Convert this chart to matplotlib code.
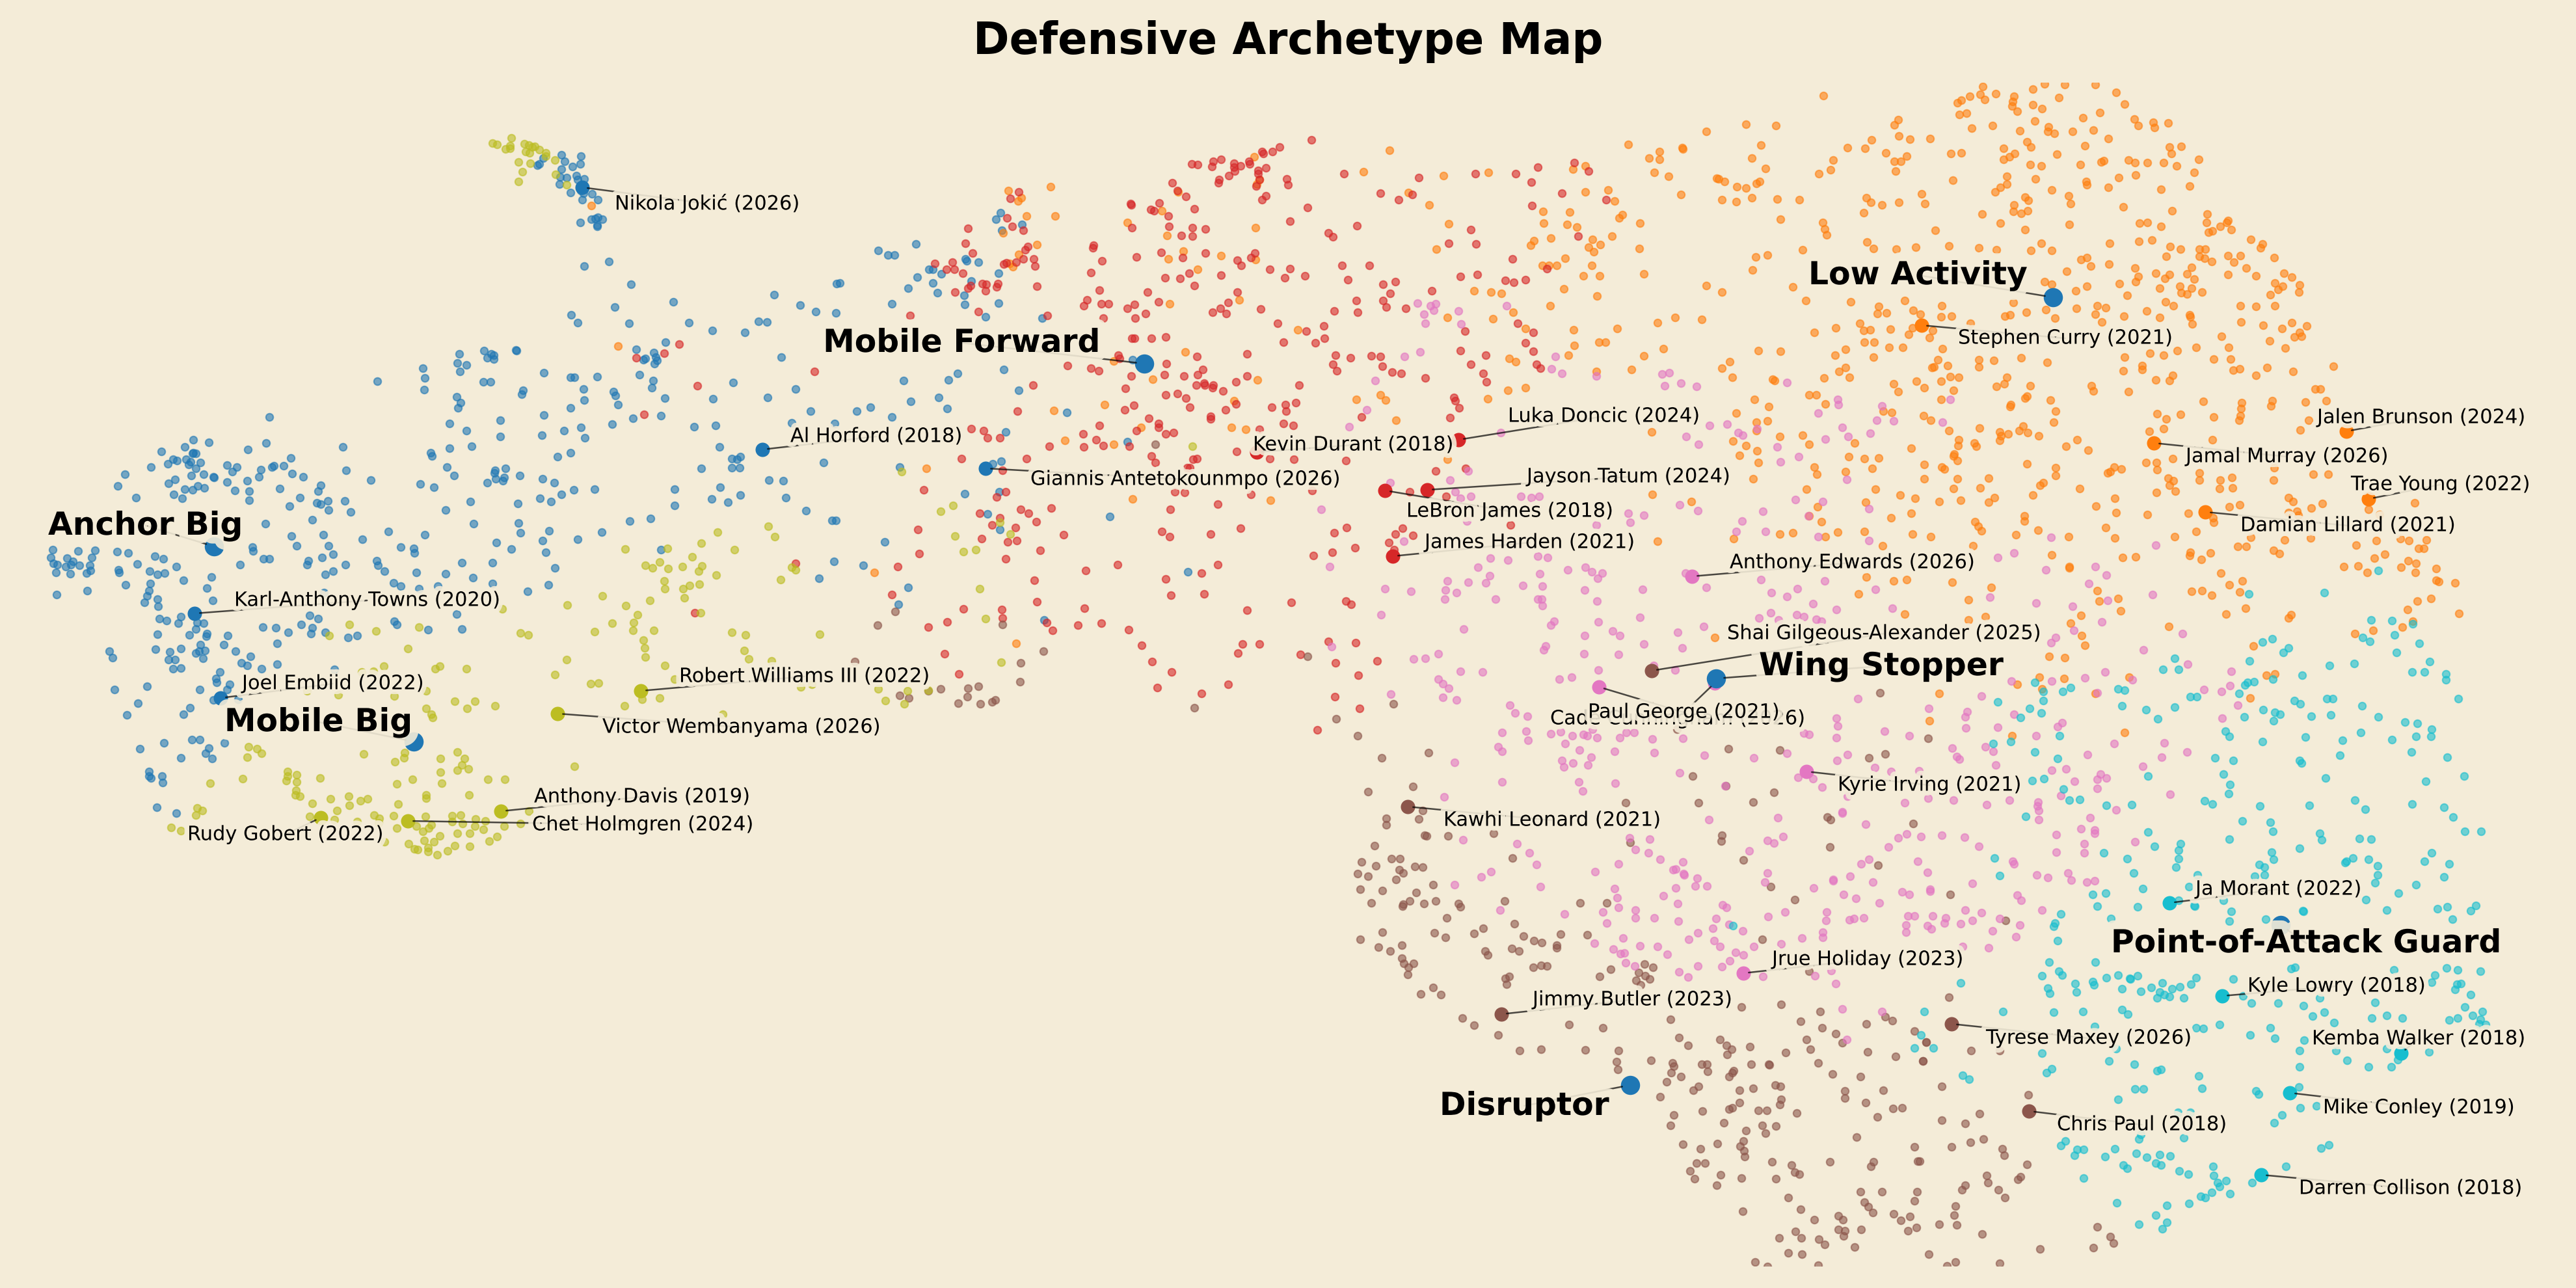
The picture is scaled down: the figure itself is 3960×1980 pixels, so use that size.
import matplotlib
matplotlib.use("Agg")
import matplotlib.pyplot as plt
import matplotlib.patheffects as pe

BACKGROUND = "#f4ecd8"
TITLE = "Defensive Archetype Map"

# Survey sheets: each block of points was logged on its own local grid.
# sheet -> (origin x, origin y, x step, y step) on the map grid.
SHEETS = {
    "nw": (0, 150, 0.842, 0.421),
    "w": (0, 700, 0.842, 0.421),
    "n": (1320, 150, 0.842, 0.421),
    "c": (1320, 700, 0.842, 0.421),
    "ne": (2640, 100, 0.842, 0.421),
    "e": (2640, 700, 0.842, 0.421),
    "s": (2000, 1250, 0.842, 0.4656),
    "se": (2950, 1250, 0.644, 0.4656),
}

COLORS = {
    "Anchor Big": "#1f77b4",
    "Low Activity": "#ff7f0e",
    "Mobile Forward": "#d62728",
    "Disruptor": "#8c564b",
    "Wing Stopper": "#e377c2",
    "Mobile Big": "#bcbd22",
    "Point-of-Attack Guard": "#17becf",
}

nw_anchor = [(1025,208),(1060,214),(1031,232),(1059,243),(1045,252),(1025,261),(992,222),(985,243),(981,248),(1052,284),(1023,290),(1034,292),(1055,300),(1066,298),(1021,315),(1042,346),(1065,350),(1081,352),(1063,372),(1091,374),(1060,340),(1059,456),(1079,443),(1091,438),(1100,444),(1087,441),(1090,471),(1090,465),
(1067,616),(1112,599),(1152,681),(1229,746),(1122,764),(1043,794),(1055,822),(1148,825),(1258,823),(1301,850),(1360,857),(1385,816),(1400,819),(1413,719),(1461,758),(1489,781),(1526,787),(1527,679),(1533,678),(1215,892),(1161,919),(1194,931),(1178,953),(1174,958),(1197,948),(1200,960),(1195,972),(884,923),(897,937),(901,941),(890,950),(902,956),(838,935),(835,970),(851,976),(840,1000),(772,988),(776,1023),(774,1066),(689,1036),(942,921),(943,923),(993,1004),(1042,1021),(1049,1022),(1090,1020),(1167,1013),(1192,1034),(1190,1060),(883,1037),(896,1037),(1065,1063),(955,1068),(953,1082),(1120,1073),(1123,1089),(1128,1120),(1067,1105),(1042,1132),(834,1092),(841,1115),(836,1133),(993,1160),(913,1178),(821,1189),(852,1217),(1061,1204),(1030,1215),(1118,1192),(1155,1170),(1207,1162),(989,1232),(913,1237),(1068,1243),(1214,1098),(1302,1099),(1402,1095),(1452,1063),(1339,1041),(1426,948),(1480,1146),(1564,1145),(1445,1188),(1524,1190),(1267,1203),(1307,1198),(492,1166),
(486,1262),(353,1249),(381,1260),(337,1275),(294,1291),(452,1285),(626,1275),(861,1272),(821,1281),(1314,1276),(353,1298),(351,1300),(358,1299),(786,1298),(789,1308),(531,1317),(1042,1296),(1018,1311),(1351,1310),
(316,1321),(323,1325),(340,1320),(348,1330),(366,1333),(306,1337),(344,1340),(358,1355),(276,1350),(415,1343),(432,1348),(424,1365),(476,1358),(500,1345),(497,1350),(518,1345),(228,1376),(349,1380),(372,1375),(389,1385),(391,1388),(320,1395),(308,1409),(415,1403),(473,1385),(451,1398),(533,1372),(553,1385),(586,1415),(677,1396),(767,1411),(792,1423),(816,1349),(829,1380),(904,1362),(923,1354),(903,1370),(905,1393),(921,1386),(918,1400),(890,1405),(949,1379),(990,1391),(1012,1405),(215,1419),(337,1431),(352,1433),(361,1418),(373,1426),(317,1450),(332,1463),(429,1434),(455,1438),(511,1427),(581,1438),(455,1470),(548,1461),(578,1480),(586,1485),(599,1472),(630,1472),(600,1506),(640,1514),(529,1491),(570,1542),(484,1556),(248,1460),(1085,1429),(1047,1433),(1025,1449),(986,1464),(1006,1475),(859,1476),(945,1481),(813,1505),(1232,1430),(1315,1422),(1351,1452),(1299,1466),(1329,1478),(1231,1489),(1430,1400),(1404,1397),(1435,1461),(1472,1509),(1519,1545),(1526,1545),(1150,1546),(1188,1537),(865,1557),(947,1553),(1280,1353),(1336,1319),(1346,1320),(1336,1352),(1350,1351),(1503,1332),(632,1360)]
w_anchor = [(590,289),(532,294),(709,278),(776,290),(950,283),(1002,276),(1098,281),(1055,306),(662,307),(990,312),(906,318),(542,329),(600,329),(732,334),(755,340),(756,356),(934,341),(996,354),(461,335),(462,350),(608,362),(588,372),(142,349),(173,347),(96,345),(214,352),(234,357),(283,367),(298,377),(481,377),(492,378),(93,373),(122,376),(168,373),(133,388),(97,395),(104,400),(120,405),(130,400),(145,402),(164,402),(251,396),(438,400),(563,385),(560,398),(631,398),(688,385),(690,402),(843,393),(899,392),(1013,410),(1523,387),(1495,448),(1207,345),(322,407),(216,418),(217,428),(165,420),(158,430),(102,428),(128,432),(273,423),(288,435),(300,430),(608,422),(594,434),(702,423),(760,428),(814,433),(864,447),(386,444),(335,455),(229,472),(274,468),(378,485),(719,466),(731,478),(765,488),(799,478),(899,468),(1001,472),(963,496),(103,509),(159,493),(272,495),(268,512),(287,525),(264,538),(388,530),(289,552),(591,500),
(565,585),(581,596),(291,596),(304,604),(330,590),(325,613),(372,612),(360,610),(720,605),(725,618),(834,580),(480,628),(503,630),(550,618),(570,630),(568,650),(594,645),(526,646),(635,665),(652,658),(782,636),(843,634),(287,654),(346,656),(357,634),(378,650),(376,660),(416,658),(506,687),(366,692),(408,692),(284,709),(199,715),(205,738),(330,706),(310,718),(363,715),(358,722),(374,712),(430,714),(308,745),(319,745),(370,740),(457,735),(441,758),(451,767),(506,763),(477,778),(316,780),(330,776),(611,782),(401,790),(394,815),(396,830),(419,835),(209,856),(268,844),(365,855),(414,855),(435,890),(390,893),(252,906),(347,922),(335,945),(232,947),(299,1049),(350,1037),(365,1037),(410,1050),(255,1072),(381,1068),(375,1088),(330,1104),(387,1107),(272,1155),(272,1170),(275,1178),(296,1172),(297,1195),(286,1285),(322,1306)]
n_anchor = [(259,420),(250,444),(298,463),(261,485),(104,534),(36,559),(54,574),(65,576),(195,588),(197,597),(219,600),(135,627),(128,628),(151,644),(107,655),(255,642),(205,670),(135,678),(90,695),(144,713),(192,722),(193,756),(255,750),(60,754),(232,800),(335,805),(265,992),(180,1006),(164,1030),(82,1033),(292,1068),(146,1095),(95,1110),(21,1130),(161,1136),(60,1167),(380,1149),(269,1221),(491,1257),(500,958)]
c_anchor = [(245,30),(260,22),(75,43),(256,133),(193,140),(235,213),(458,224),(258,271),(47,316),(8,401),(90,482),(73,545),(338,602),(601,426)]

nw_low = [(1080,395),(1128,908)]
n_low = [(350,325),(273,340),(297,365),(291,378),(307,433),(359,432),(264,495),(325,536),(292,573),(275,605),(282,618),(490,457),(553,413),(583,345),(563,503),(724,475),(722,217),(732,300),(727,315),(593,560),(565,588),(661,578),(724,592),(619,628),(568,754),(695,738),(596,929),(466,962),(537,1028),(728,1031),(449,1121),(356,1142),(685,1108),(516,1204),(681,1205),(707,1211),(376,1252),(465,1267),(969,192),(922,270),(1068,286),(1150,272),(1004,347),(1042,393),(1077,460),(1055,554),(802,848),(952,1086),(962,1105),(909,1103),(981,1178),(1075,803),(1158,807),(1217,843),(1188,952),(1199,965),(1185,1069),(1217,1060),(1149,1099),(1124,705),(1154,710),(1173,714),(1262,760),(1195,784),(1348,724),(1288,698),(1323,652),(1353,651),(1434,644),(1547,687),(1338,612),(1248,612),(1260,612),(1274,613),(1290,586),(1425,550),(1340,517),(1333,547),(1342,562),(1354,538),(1375,507),(1233,522),(1227,540),(1264,513),(1293,462),(1250,459),(1311,473),(1249,416),(1298,417),(1388,440),(1394,428),(1426,458),(1380,377),(1327,345),(1368,338),(1304,262),(1327,250),(1405,170),(1443,221),(1462,196),(1462,225),(1503,182),(1505,187),(1547,124),(1452,274),(1479,288),(1566,295),(1501,355),(1490,802),(1539,811),(1458,823),(1385,843),(1305,847),(1351,893),(1364,892),(1306,905),(1469,918),(1433,943),(1296,941),(1411,992),(1347,999),(1448,1220)]
c_low = [(123,47),(500,160),(752,164),(28,428),(287,687),(1449,143),(1520,168),(1458,314),(1075,15),(1563,665)]
ne_low = [(194,112),(485,78),(576,88),(597,70),(634,72),(690,72),(728,100),(508,104),(480,108),(461,114),(445,128),(438,138),(488,125),(542,115),(539,132),(538,150),(548,168),(576,145),(593,160),(624,118),(743,142),(698,174),(455,176),(442,180),(668,192),(761,198),(796,208),(769,220),(798,228),(823,212),(52,215),(107,222),(330,199),(323,218),(579,205),(502,220),(464,230),(605,225),(603,243),(615,250),(648,242),(686,237),(552,241),(331,258),(351,270),(388,268),(281,272),(714,269),(565,281),(573,299),(671,295),(826,299),(847,296),(79,293),(238,301),(270,305),(308,320),(523,305),(829,323),(543,323),(533,336),(522,345),(426,322),(445,320),(620,326),(346,333),(63,339),(211,347),(323,352),(335,352),(705,348),(701,355),(751,347),(762,357),(785,357),(815,357),(838,367),(879,345),(571,364),(591,368),(663,363),(88,378),(207,383),(185,396),(325,388),(871,393),(528,406),(581,416),(733,410),(764,402),(430,420),(673,425),(674,438),(529,434),(517,447),(507,462),(714,446),(862,441),(810,453),(611,455),(2,416),(13,425),(36,445),(52,449),(77,425),(71,432),(641,477),(562,482),(568,495),(373,470),(272,484),(280,500),(301,510),(331,500),(379,506),(8,492),(34,499),(63,484),(109,489),(150,491),(645,505),(541,510),(741,518),(830,531),(267,539),(540,535),(555,542),(567,533),(483,544),(894,545),(115,562),(771,578),(785,575),(893,575),(932,568),(930,574),(517,578),(192,574),(643,581),(810,590),(918,590),(938,602),(904,605),(897,611),(196,598),(398,604),(562,602),(200,621),(974,637),(716,652),(770,644),(793,640),(273,646),(285,670),(327,672),(362,665),(423,660),(478,667),(509,675),(592,652),(610,676),(995,653),(827,663),(846,672),(992,667),(155,674),(573,678),(880,673),(891,673),(880,698),(890,706),(903,717),(932,696),(955,695),(943,720),(1017,703),(820,698),(70,700),(92,693),(664,711),(675,703),(682,734),(715,727),(966,742),(866,738),(762,740),(64,749),(638,754),(1034,760),(800,760),(858,762),(932,765),(983,769),(1049,775),(769,772),(826,766),(817,780),(870,781),(764,790),(1018,795),(1063,802),(1032,807),(734,799),(808,815),(845,807),(866,815),(847,832),(857,835),(885,830),(1024,820),(1062,828),(1010,839),(597,790),(610,800),(138,810),(8,829),(675,808),(654,825),(748,840),(162,861),(243,865),(342,861),(818,865),(833,880),(540,868),(955,878),(983,882),(1018,880),(295,882),(410,880),(358,895),(694,878),(709,885),(656,889),(292,908),(309,905),(600,893),(784,897),(564,903),(534,912),(525,918),(690,909),(742,918),(808,921),(862,913),(864,920),(428,918),(370,910),(409,920),(616,924),(956,939),(1049,941),(867,946),(997,950),(260,944),(702,938),(462,942),(1076,953),(356,960),(1031,961),(216,959),(279,966),(267,970),(316,964),(177,977),(349,983),(393,970),(1063,977),(1067,990),(1054,992),(920,990),(387,996),(1008,1008),(269,1013),(286,1012),(314,1032),(339,1030),(874,1030),(934,1032),(1037,1034),(411,1036),(234,1038),(75,1042),(115,1044),(840,1042),(790,1053),(815,1060),(215,1060),(285,1066),(744,1066),(555,1068),(403,1077),(906,1074),(937,1074),(477,1077),(505,1078),(23,1082),(602,1085),(1125,1100),(396,1103),(392,1105),(420,1097),(477,1101),(775,1097),(776,1112),(1004,1105),(954,1110),(942,1114),(1051,1118),(741,1116),(8,1106),(234,1105),(222,1118),(831,1132),(983,1132),(195,1143),(27,1140),(529,1140),(241,1141),(425,1138),(441,1141),(101,1147),(105,1152),(800,1150),(825,1152),(409,1154),(363,1154),(524,1163),(509,1174),(322,1163),(378,1177),(571,1172),(683,1170),(330,1192),(431,1187),(687,1190),(750,1192),(1091,1184),(1101,1184),(167,1204),(181,1204),(565,1210),(562,1217),(608,1224),(408,1221),(68,1222),(197,1237),(887,1229),(957,1232),(1013,1225),(1011,1245),(1074,1231),(1112,1225),(536,1240),(535,1248),(94,1246),(956,1254),(618,1263),(34,1270),(303,1263),(318,1268),(803,1272),(846,1275),(955,1280),(906,1285),(952,1298),(377,1280),(390,1297),(1080,1296),(92,1299),(71,1303),(820,1293),(614,1304),(423,1334),(479,1325),(815,1327),(1064,1333),(558,1318),(551,1335),(515,1340),(567,1341),(531,1347),(71,1335),(789,1337),(587,1355),(518,1355),(515,1370),(114,1357),(156,1352),(904,1369),(657,1367),(441,1367),(29,1372),(168,1384),(251,1380),(469,1380),(440,1390),(473,1392),(52,1389),(636,1393),(354,1400),(677,1405),(73,1409),(432,1420)]
e_low = [(40,0),(240,5),(268,13),(295,10),(431,3),(75,25),(177,42),(410,43),(415,50),(283,48),(182,68),(234,60),(378,33),(438,20),(378,85),(438,85),(495,82),(565,32),(618,45),(617,73),(725,42),(737,50),(713,63),(717,60),(783,25),(802,25),(803,52),(831,12),(65,85),(595,100),(589,110),(823,82),(833,93),(826,110),(880,65),(880,90),(836,130),(802,135),(918,90),(917,120),(941,118),(1017,45),(940,80),(1015,90),(1088,70),(1115,68),(163,124),(289,124),(431,122),(480,118),(334,146),(361,157),(405,168),(444,163),(495,170),(506,155),(576,145),(661,122),(726,157),(271,172),(183,188),(691,185),(728,210),(935,187),(954,180),(860,212),(905,228),(906,245),(785,216),(1043,155),(1051,168),(1105,176),(1084,193),(1043,210),(1058,205),(1060,218),(1273,173),(1189,197),(1209,215),(354,211),(167,220),(317,228),(190,243),(470,243),(561,220),(560,240),(476,258),(482,275),(709,264),(874,278),(586,272),(220,280),(269,277),(114,288),(138,283),(197,297),(356,288),(389,298),(545,290),(641,298),(726,302),(835,298),(30,304),(302,330),(467,330),(950,333),(966,332),(974,300),(1036,308),(1083,302),(1166,328),(1203,310),(1247,305),(1263,312),(1294,308),(1280,340),(1290,340),(611,363),(740,372),(764,370),(864,355),(862,365),(900,357),(884,380),(1016,347),(1026,358),(1219,360),(1199,376),(1261,385),(1275,394),(643,405),(643,412),(1144,405),(1170,403),(1248,408),(1312,414),(919,429),(1187,427),(1274,428),(1317,460),(1312,457),(1347,465),(272,444),(322,458),(346,454),(429,463),(958,459),(935,473),(500,482),(258,507),(694,493),(866,497),(885,495),(954,498),(903,511),(731,523),(697,532),(1303,523),(1278,533),(458,528),(964,558),(1260,562),(736,568),(342,580),(929,580),(1354,577),(664,585),(1047,582),(1043,595),(489,590),(459,602),(645,614),(824,624),(1250,626),(1270,605),(1197,640),(1164,652),(665,658),(671,693),(979,696),(606,734),(634,738),(588,809),(633,814),(752,811),(1002,803),(1018,798),(547,835),(593,853),(690,870),(973,885),(405,870),(387,968),(538,1024),(744,1011)]

w_forward = [(1453,395),(1269,575)]
nw_forward = [(1240,900),(1213,934),(1161,951),(1487,1001),(1273,1053),(1176,1157)]
n_forward = [(827,154),(769,180),(755,198),(736,197),(739,205),(712,232),(714,243),(661,226),(647,232),(645,252),(685,240),(685,255),(697,250),(608,242),(619,245),(743,257),(729,265),(729,278),(686,268),(676,285),(658,300),(657,312),(731,300),(782,296),(784,318),(572,312),(726,322),(582,340),(597,362),(744,358),(736,373),(549,384),(496,388),(498,393),(820,402),(613,405),(533,409),(539,414),(565,433),(787,451),(566,470),(609,474),(633,480),(499,475),(589,503),(609,505),(910,467),(858,493),(866,509),(886,278),(1023,293),(1126,278),(1200,278),(1240,253),(1306,238),(1332,268),(1228,308),(1284,350),(952,349),(986,372),(1011,355),(1229,394),(1365,372),(1118,481),(1313,505),(1077,532),(1127,535),(199,477),(271,439),(280,470),(300,484),(292,345),(277,368),(195,531),(309,543),(304,555),(208,568),(320,590),(322,616),(301,588),(287,600),(265,608),(270,604),(171,602),(160,627),(175,627),(139,606),(190,641),(325,690),(226,679),(233,682),(254,680),(252,692),(204,686),(200,697),(231,705),(176,711),(219,782),(94,795),(344,795),(429,540),(428,548),(444,596),(424,639),(507,583),(552,565),(592,584),(633,567),(723,567),(716,585),(691,595),(698,612),(750,626),(787,625),(815,650),(778,658),(662,649),(603,642),(587,660),(559,659),(613,686),(439,704),(417,738),(411,760),(443,753),(456,752),(527,710),(503,755),(490,770),(547,745),(505,806),(524,788),(691,711),(675,748),(660,770),(646,785),(671,788),(734,773),(883,612),(932,614),(893,665),(957,682),(980,673),(1046,706),(970,714),(957,740),(963,764),(909,741),(868,779),(911,783),(999,769),(1098,653),(1129,647),(1180,668),(1196,675),(1217,665),(1193,588),(1257,624),(1203,825),(1107,852),(1231,857),(1217,896),(1231,927),(1099,925),(1145,941),(1117,975),(1237,973),(1245,988),(1140,1007),(1146,1037),(1034,1024),(990,1006),(974,1003),(956,982),(870,941),(898,950),(936,944),(953,946),(866,973),(873,998),(850,879),(849,834),(817,852),(765,825),(775,892),(834,895),(709,937),(618,946),(562,972),(628,993),(558,1011),(498,1017),(594,1017),(619,1012),(424,987),(438,998),(381,978),(318,1049),(474,940),(476,953),(503,880),(499,880),(534,880),(561,874),(447,805),(709,1017),(689,1039),(804,1049),(616,1050),(631,1043),(632,1050),(647,1050),(646,1060),(665,1072),(487,1061),(560,1086),(582,1080),(597,1098),(689,1118),(604,1131),(502,1123),(486,1140),(290,1144),(670,1141),(754,1131),(779,1122),(798,1114),(780,1145),(1087,1095),(1089,1108),(1096,1134),(1080,1168),(918,1167),(642,1165),(642,1173),(530,1170),(547,1190),(548,1205),(507,1217),(560,1227),(575,1223),(440,1198),(410,1227),(434,1250),(447,1270),(411,1276),(494,1273),(348,1273),(206,1209),(228,1216),(235,1242),(258,1242),(732,1212),(775,1191),(793,1196),(690,1291)]
c_forward = [(188,13),(307,12),(542,27),(534,2),(610,14),(618,13),(605,45),(600,45),(263,55),(119,125),(268,132),(252,153),(577,132),(595,135),(716,143),(828,128),(656,177),(296,197),(351,193),(310,212),(221,212),(569,198),(258,228),(244,253),(324,243),(286,264),(108,271),(697,265),(891,263),(868,283),(554,277),(568,297),(642,287),(374,290),(225,305),(272,315),(289,310),(993,267),(980,287),(1012,293),(968,318),(977,345),(906,338),(331,346),(830,366),(865,355),(110,358),(268,378),(473,399),(655,399),(71,407),(415,421),(626,430),(561,451),(321,457),(570,510),(631,507),(61,509),(325,534),(790,538),(890,531),(899,544),(191,561),(261,563),(709,565),(412,559),(262,595),(162,607),(127,628),(343,611),(354,638),(400,619),(443,612),(493,636),(517,694),(701,689),(731,688),(692,722),(858,679),(907,685),(157,724),(806,726),(870,758),(947,750),(536,754),(571,792),(183,797),(912,802),(675,837),(545,848),(626,870),(869,882),(915,925),(837,1002),(890,18),(750,12),(795,15),(1053,58),(1108,47),(1006,133),(1073,150),(1190,255)]

w_brown = [(1560,752)]
n_brown = [(541,1267)]
c_brown = [(66,571),(262,618),(34,621),(337,715),(296,758),(294,826),(819,735),(219,843),(199,850),(150,853),(127,860),(75,876),(92,887),(198,882),(182,905),(222,908),(249,893),(244,900),(613,922),(976,907),(872,961),(911,1024),(1040,1085),(955,1105),(1523,1172),(1012,1209),(930,1228),(1400,1268),(1533,1268),(1030,1298),(1494,1000)]
e_brown = [(297,868),(385,1033),(20,1072),(114,1075),(306,1090),(277,1105),(15,1207),(103,1231),(65,1267)]
s_brown = [(156,18),(156,38),(215,20),(226,72),(229,76),(269,75),(352,67),(134,107),(110,162),(165,150),(181,150),(137,174),(103,200),(122,208),(179,186),(186,197),(208,176),(222,179),(173,220),(108,251),(149,256),(241,237),(210,263),(128,297),(198,291),(186,300),(185,308),(224,298),(246,290),(287,298),(291,310),(372,291),(509,296),(558,297),(266,345),(108,416),(148,393),(243,395),(264,410),(316,398),(332,380),(389,366),(406,405),(474,399),(523,401),(425,421),(440,428),(467,435),(467,444),(141,442),(184,435),(163,456),(385,447),(398,455),(336,456),(341,468),(184,478),(188,497),(206,496),(196,510),(195,533),(424,508),(438,502),(449,505),(565,515),(545,539),(627,498),(642,508),(616,527),(628,538),(637,547),(612,553),(380,540),(373,545),(375,565),(620,568),(241,576),(219,598),(255,600),(295,677),(316,701),(360,732),(489,698),(551,708),(675,681),(804,640),(877,631),(948,654),(912,688),(1032,696),(1067,673),(1079,685),(951,708),(976,728),(923,747),(930,779),(690,741),(765,747),(707,767),(777,767),(786,780),(778,796),(820,772),(885,790),(988,758),(1035,788),(1085,803),(399,783),(438,780),(519,781),(580,783),(576,820),(578,847),(639,816),(678,825),(680,835),(732,830),(741,830),(742,852),(822,830),(854,830),(855,832),(944,825),(1120,720),(1135,818),(1141,755),(676,858),(693,869),(668,886),(790,850),(788,856),(781,870),(970,862),(1021,870),(726,903),(716,915),(801,914),(826,909),(866,898),(875,903),(1063,914),(993,918),(993,940),(656,936),(876,946),(874,962),(801,955),(1031,955),(1081,975),(1097,972),(733,983),(787,973),(781,977),(835,982),(850,982),(905,990),(680,996),(1052,1002),(675,1032),(772,1022),(842,1030),(867,1034),(812,1048),(848,1057),(1014,1070),(697,1093),(760,1090),(808,1082),(802,1100),(729,1108),(809,1115),(810,1133),(722,1155),(737,1155),(860,1152),(966,1151),(1045,1152),(896,1163),(1040,1167),(1120,1102),(1126,1149),(902,1186),(910,1192),(710,1181),(766,1195),(719,1208),(804,1205),(867,1208),(759,1229),(1021,1251),(1061,1249),(1125,1251),(889,1269),(1120,1279),(1028,1285),(1036,1300),(1044,1318),(806,1315),(912,1308),(1082,1323),(1112,1331),(981,1329),(989,1343),(1095,1345),(937,1343),(981,1375),(993,1378),(1023,1374),(1108,1378),(1124,1369),(903,1380),(990,1397),(873,1402),(913,1402),(945,1406),(956,1423),(1011,1433),(890,1451),(915,1457),(829,1483),(944,1492),(852,1497),(601,97),(768,72),(767,92),(966,111),(808,155),(1054,171),(857,243),(902,285),(1117,35),(961,12),(967,22),(386,149),(842,417),(928,522)]
se_brown = [(74,269),(207,355),(72,607),(17,755),(124,785),(193,785),(9,819),(54,901),(261,930),(145,992),(55,1013),(111,1025),(154,1076),(123,1087),(78,1102),(198,1109),(204,1130),(257,1159),(161,1197),(165,1219),(243,1201),(236,1210),(110,1229),(102,1244),(189,1243),(205,1269),(87,1297),(84,1328),(48,1358),(90,1360),(150,1389),(289,1438),(425,1367),(456,1398),(465,1420),(416,1434),(24,1457),(87,1483),(192,1487),(66,1495),(2,1150)]

n_wing = [(1020,750),(1044,760),(1053,753),(1050,777),(1032,790),(1095,780),(1183,760),(1035,825),(1100,827),(996,946),(1025,929),(1272,945),(1265,990),(1284,1006),(1347,1016),(1467,1009),(1480,1005),(1472,1053),(1501,1042),(1530,1055),(943,1034),(927,1140),(896,1201),(1172,1224),(1554,1198),(1511,1238),(1533,1265)]
c_wing = [(1113,58),(1080,91),(970,100),(1089,132),(1099,157),(1117,150),(1209,150),(1228,155),(1242,150),(844,196),(1405,211),(1434,219),(1532,201),(1499,180),(1409,245),(1347,255),(1111,240),(995,314),(860,405),(1153,376),(1185,383),(1240,367),(1258,373),(1131,408),(1294,418),(1327,409),(1339,424),(1357,430),(1349,450),(1152,440),(1244,433),(1510,430),(1075,458),(1113,463),(1145,465),(1213,476),(1248,477),(961,488),(1008,496),(1071,492),(1092,500),(1326,492),(1431,490),(1548,483),(1070,526),(1163,526),(1240,524),(1247,524),(1248,548),(1348,533),(954,581),(1426,591),(1270,606),(1264,620),(1350,609),(1105,635),(1376,642),(1390,658),(1495,647),(1543,625),(1325,658),(1254,695),(1250,711),(1433,688),(1503,704),(1324,725),(1387,728),(864,698),(1058,724),(1013,744),(1034,742),(1451,767),(1350,785),(1490,785),(1098,788),(1139,792),(1058,816),(1067,834),(1077,850),(1279,816),(1302,810),(971,871),(1067,883),(1092,893),(1189,911),(1198,940),(1221,952),(1175,1013),(1219,1006),(1264,1016),(1281,1010),(1303,1023),(1323,1018),(1340,1000),(1330,1023),(1348,1032),(1389,1032),(1402,1012),(1416,1012),(1449,1036),(1505,1034),(1222,1040),(1290,1052),(1168,1065),(1174,1081),(1316,1076),(1380,1081),(1452,1085),(1088,1122),(1284,1115),(1304,1124),(1288,1137),(1331,1130),(1337,1101),(1544,1095),(1499,1158),(1174,1192),(1315,1193),(1381,1197),(1322,1226),(1069,1247)]
ne_wing = [(127,1159),(220,1220),(221,1240),(425,1222),(301,1245),(184,1270),(18,1310),(291,1296),(322,1300),(411,1303),(73,1328),(228,1323),(38,1341),(46,1352),(279,1344),(239,1357),(197,1366),(109,1395)]
e_wing = [(149,5),(115,23),(236,88),(143,162),(192,168),(277,195),(83,205),(166,222),(45,240),(35,278),(88,277),(184,298),(277,311),(609,299),(801,327),(512,373),(542,356),(80,453),(196,459),(690,405),(600,418),(710,437),(146,486),(99,502),(127,515),(289,490),(678,468),(794,508),(498,518),(713,530),(174,542),(582,540),(649,550),(217,564),(320,558),(97,575),(145,583),(76,595),(158,588),(180,598),(190,605),(112,600),(702,608),(651,638),(849,651),(617,665),(609,683),(778,711),(859,762),(708,791),(938,789),(671,812),(611,825),(758,820),(537,825),(936,842),(888,855),(920,862),(694,868),(482,880),(257,889),(950,913),(386,923),(456,935),(452,955),(542,945),(217,960),(922,960),(629,976),(621,990),(220,988),(454,995),(512,994),(305,1008),(158,1015),(168,1018),(350,1024),(217,1030),(582,1023),(725,1053),(816,1049),(504,1080),(489,1065),(429,1070),(858,1083),(811,1103),(676,1092),(237,1093),(127,1088),(437,1100),(442,1110),(66,1104),(219,1113),(508,1130),(777,1135),(287,1140),(610,1150),(636,1145),(317,1155),(368,1152),(700,1165),(710,1178),(693,1183),(652,1190),(147,1175),(175,1180),(14,1207),(191,1212),(694,1217),(827,1237),(627,1243),(342,1268),(431,1258),(385,1252),(492,1276),(533,1260),(586,1265),(584,1280),(587,1298),(728,1294),(237,1245),(228,1301)]
s_wing = [(296,87),(394,101),(417,130),(430,170),(600,82),(637,85),(610,120),(634,131),(655,153),(697,162),(580,168),(537,193),(347,193),(329,210),(280,237),(437,242),(684,184),(679,186),(698,200),(700,205),(723,215),(720,240),(741,240),(572,249),(684,248),(661,272),(577,280),(579,311),(688,299),(551,326),(610,319),(770,302),(777,311),(363,321),(481,333),(610,346),(645,345),(689,357),(558,362),(758,349),(781,367),(752,381),(806,388),(725,395),(708,416),(754,421),(536,430),(588,412),(619,438),(651,441),(765,440),(570,449),(583,464),(590,462),(669,466),(827,441),(793,459),(808,468),(783,487),(593,494),(609,505),(724,505),(768,506),(690,523),(707,541),(843,540),(938,538),(976,562),(968,520),(988,647),(1061,655),(996,748),(745,22),(871,14),(988,0),(1031,36),(852,90),(880,77),(863,99),(818,124),(1106,68),(1090,81),(1073,111),(1037,153),(1023,167),(1126,159),(851,198),(847,228),(936,246),(971,219),(971,223),(1002,208),(1044,228),(990,269),(1013,281),(1097,259),(1110,269),(1056,296),(884,326),(853,341),(960,327),(959,355),(1010,347),(1001,352),(1027,346),(1108,340),(1120,340),(1105,369),(1105,394),(953,392),(953,410),(914,412),(877,431)]
se_wing = [(5,78),(55,73),(108,79),(143,110),(20,196),(128,231),(26,252),(26,257),(110,321),(149,328),(32,339),(63,345),(61,363),(100,365),(127,355),(193,347),(241,369),(20,372),(30,382),(176,388),(231,408),(166,444),(104,440),(294,320),(235,270),(244,288),(281,203),(307,213),(356,198),(364,222),(400,228),(419,224),(327,71),(387,52),(419,55),(420,67),(395,102),(328,128),(394,131),(516,95),(409,14),(285,22),(223,160),(226,167)]

nw_olive = [(899,167),(907,171),(934,148),(931,175),(923,188),(931,186),(957,168),(965,173),(976,178),(985,190),(960,198),(967,201),(997,203),(997,213),(1013,228),(946,234),(968,240),(954,271),(947,306),(1014,280),(1034,318),(972,180)]
w_olive = [(1310,281),(1403,258),(1415,298),(1280,321),(1141,342),(1218,340),(1341,345),(1264,370),(1178,402),(1191,411),(1204,390),(1220,413),(1246,405),(1281,403),(1276,423),(1308,437),(1213,458),(1425,453),(1445,408),(1453,417),(1214,488),(1259,475),(1247,488),(1277,470),(1249,521),(1187,530),(1100,514),(1143,548),(1036,547),(917,560),(1164,583),(1157,610),(1117,614),(1155,638),(1193,639),(1085,644),(1279,575),(950,648),(964,656),(638,618),(601,659),(687,642),(765,626),(1336,646),(1361,655),(1497,653),(1174,674),(1177,702),(745,705),(1359,712),(1178,736),(1367,743),(1408,750),(1034,747),(1214,768),(1013,800),(701,770),(803,770),(794,778),(851,780),(660,790),(682,788),(1078,834),(1093,832),(1232,817),(1462,845),(1482,835),(1172,890),(1204,886),(1140,915),(830,897),(867,897),(853,924),(904,914),(778,924),(787,945),(790,958),(1320,945),(560,860),(617,875),(720,880),(778,860),(454,1063),(469,1072),(477,1088),(451,1102),(664,1090),(739,1085),(738,1105),(721,1119),(835,1083),(848,1108),(804,1108),(843,1130),(855,1144),(835,1150),(804,1157),(1049,1135),(525,1155),(542,1166),(525,1170),(522,1187),(542,1192),(584,1179),(443,1181),(384,1198),(753,1184),(724,1200),(806,1198),(891,1182),(922,1182),(540,1223),(539,1240),(548,1245),(856,1239),(778,1240),(778,1252),(603,1253),(637,1245),(638,1278),(658,1262),(671,1254),(570,1270),(615,1296),(727,1274),(360,1288),(369,1296),(358,1313),(565,1318),(683,1313),(692,1325),(719,1316),(777,1318),(825,1317),(841,1314),(868,1328),(825,1337),(966,1300),(610,1331),(652,1337),(691,1342),(788,1350),(783,1360),(760,1353),(920,1354),(886,1334),(867,1355),(883,1365),(845,1345),(950,1344),(312,1358),(330,1370),(724,1360),(772,1373),(835,1381),(858,1380),(803,1389),(907,1392),(774,1405),(792,1412),(893,1409),(702,1412),(746,1417),(757,1436),(763,1440),(782,1432),(782,1447),(798,1458),(817,1444),(830,1425),(858,1428)]
n_olive = [(609,1273)]
c_olive = [(78,60),(258,245),(150,205),(172,183),(277,287),(176,295),(191,351),(214,344),(221,487),(231,596),(260,756),(36,852),(89,860),(127,858),(49,896),(83,907)]

e_guard = [(1207,421),(1108,500),(970,505),(1193,601),(1231,604),(1270,615),(1236,655),(995,682),(1013,670),(1178,666),(1191,680),(1281,686),(1043,704),(1033,720),(1240,720),(835,740),(971,751),(1163,760),(1118,768),(1300,753),(813,782),(842,782),(1068,804),(1268,791),(1291,791),(1330,797),(1330,820),(1014,817),(968,828),(980,827),(963,838),(580,830),(645,848),(631,862),(595,862),(732,853),(743,858),(953,870),(864,882),(875,881),(1054,896),(1064,907),(1113,889),(1124,889),(1353,889),(512,900),(595,896),(739,915),(1177,915),(570,923),(835,920),(783,929),(591,941),(997,929),(1018,939),(1027,945),(553,958),(962,956),(804,962),(1084,952),(1120,948),(1207,955),(1015,969),(1255,973),(1278,978),(1304,1000),(928,1006),(935,1025),(625,1024),(1074,1028),(1175,1013),(1303,1027),(1276,1027),(1231,1039),(1141,1040),(995,1044),(536,1046),(504,1052),(580,1084),(1267,1083),(1136,1094),(1332,1101),(621,1107),(908,1104),(942,1114),(1063,1113),(1067,1124),(924,1165),(786,1170),(596,1180),(1111,1178),(1364,1172),(575,1188),(1293,1190),(632,1219),(936,1203),(933,1236),(642,1258),(661,1257),(889,1262),(904,1272),(990,1280),(1081,1278),(1164,1258),(1183,1291),(1268,1274),(1327,1285),(757,1275),(710,1278)]
s_guard = [(789,372),(1120,775)]
se_guard = [(254,11),(180,148),(192,206),(441,130),(497,150),(547,62),(562,109),(512,197),(534,249),(414,268),(445,264),(425,308),(521,310),(339,333),(325,363),(321,374),(331,422),(458,347),(311,492),(421,491),(293,536),(334,521),(341,534),(100,561),(372,562),(414,556),(417,568),(447,544),(475,535),(503,545),(505,548),(522,537),(308,578),(312,596),(376,590),(484,580),(529,589),(555,575),(580,561),(575,590),(585,600),(569,610),(598,606),(604,580),(623,574),(649,564),(662,543),(632,610),(750,547),(773,604),(794,628),(857,627),(918,635),(957,610),(968,658),(940,671),(990,692),(1088,626),(1081,676),(1116,667),(1153,677),(1317,600),(1303,640),(1322,669),(1344,655),(1340,680),(1337,695),(1353,697),(1266,684),(1285,677),(1231,535),(1223,558),(1284,565),(1294,562),(1280,582),(1259,512),(1286,517),(1340,522),(1133,517),(888,513),(898,508),(771,26),(839,31),(844,60),(956,66),(961,89),(1052,83),(1079,85),(1275,13),(1303,60),(1342,60),(740,85),(909,115),(624,101),(620,122),(619,150),(614,179),(841,128),(846,153),(812,170),(825,178),(1223,131),(1207,160),(1265,168),(1036,149),(1020,160),(1017,163),(1073,152),(1095,174),(1094,203),(1089,229),(1253,210),(1187,237),(1145,265),(645,243),(665,203),(801,208),(825,203),(726,288),(659,308),(657,306),(745,325),(916,322),(917,325),(1116,320),(1238,315),(1261,310),(1329,306),(1317,323),(1067,285),(1273,350),(827,350),(741,357),(619,287),(12,656),(200,655),(322,657),(391,654),(485,649),(499,663),(5,733),(34,775),(294,792),(470,778),(662,708),(679,711),(718,698),(420,705),(790,733),(839,708),(849,744),(920,750),(909,783),(996,785),(1022,817),(1073,837),(1127,838),(1143,814),(1218,788),(1117,778),(453,819),(514,829),(569,850),(578,847),(316,845),(305,858),(104,865),(119,879),(908,838),(668,867),(675,908),(515,910),(536,911),(804,917),(811,928),(907,905),(475,945),(910,973),(948,966),(867,996),(848,1023),(618,988),(648,988),(530,1062),(525,1077),(632,1072),(349,1082),(339,1098),(378,1110),(393,1110),(371,1130),(468,1108),(444,1133),(518,1123),(544,1136),(574,1128),(599,1132),(565,1155),(578,1163),(487,1161),(497,1172),(621,1181),(643,1191),(702,1166),(704,1197),(733,1213),(712,1221),(717,1232),(699,1253),(743,1257),(672,1265),(684,1270),(645,1288),(795,1219),(876,1167),(959,1107),(978,1096),(393,1204),(592,1295),(472,1286),(565,1328),(591,1352),(525,1357),(580,1373)]

CLUSTERS = {
    "Anchor Big": [("nw", nw_anchor), ("w", w_anchor), ("n", n_anchor), ("c", c_anchor)],
    "Low Activity": [("nw", nw_low), ("n", n_low), ("c", c_low), ("ne", ne_low), ("e", e_low)],
    "Mobile Forward": [("w", w_forward), ("nw", nw_forward), ("n", n_forward), ("c", c_forward)],
    "Disruptor": [("w", w_brown), ("n", n_brown), ("c", c_brown), ("e", e_brown), ("s", s_brown), ("se", se_brown)],
    "Wing Stopper": [("n", n_wing), ("c", c_wing), ("ne", ne_wing), ("e", e_wing), ("s", s_wing), ("se", se_wing)],
    "Mobile Big": [("nw", nw_olive), ("w", w_olive), ("n", n_olive), ("c", c_olive)],
    "Point-of-Attack Guard": [("e", e_guard), ("s", s_guard), ("se", se_guard)],
}

# Archetype centroids: name, centroid x, y, label x, y, anchor
CENTROIDS = [
    ("Anchor Big", 329, 840, 74, 808, "left"),
    ("Mobile Big", 636, 1140, 345, 1110, "left"),
    ("Mobile Forward", 1759, 559, 1692, 527, "right"),
    ("Low Activity", 3156, 457, 2780, 423, "left"),
    ("Wing Stopper", 2638, 1043, 2704, 1024, "left"),
    ("Disruptor", 2506, 1668, 2213, 1700, "left"),
    ("Point-of-Attack Guard", 3506, 1422, 3245, 1450, "left"),
]

# Named player seasons: label, archetype, point x, y, label left edge, label centre y
PLAYERS = [
    ("Nikola Jokić (2026)", "Anchor Big", 895, 288, 945, 313),
    ("Al Horford (2018)", "Anchor Big", 1172, 691, 1215, 671),
    ("Karl-Anthony Towns (2020)", "Anchor Big", 299, 943, 360, 923),
    ("Joel Embiid (2022)", "Anchor Big", 339, 1073, 372, 1051),
    ("Giannis Antetokounmpo (2026)", "Anchor Big", 1515, 720, 1584, 737),
    ("Robert Williams III (2022)", "Mobile Big", 985, 1062, 1044, 1040),
    ("Victor Wembanyama (2026)", "Mobile Big", 857, 1097, 926, 1118),
    ("Anthony Davis (2019)", "Mobile Big", 770, 1247, 821, 1225),
    ("Chet Holmgren (2024)", "Mobile Big", 627, 1262, 818, 1268),
    ("Rudy Gobert (2022)", "Mobile Big", 493, 1257, 288, 1283),
    ("Kevin Durant (2018)", "Mobile Forward", 1932, 695, 1926, 684),
    ("Luka Doncic (2024)", "Mobile Forward", 2242, 676, 2318, 640),
    ("Jayson Tatum (2024)", "Mobile Forward", 2194, 753, 2347, 733),
    ("LeBron James (2018)", "Mobile Forward", 2129, 754, 2162, 786),
    ("James Harden (2021)", "Mobile Forward", 2141, 855, 2190, 834),
    ("Cade Cunningham (2026)", "Wing Stopper", 2636, 1050, 2383, 1105),
    ("Anthony Edwards (2026)", "Wing Stopper", 2601, 886, 2659, 865),
    ("Paul George (2021)", "Wing Stopper", 2458, 1056, 2441, 1095),
    ("Kyrie Irving (2021)", "Wing Stopper", 2777, 1186, 2825, 1207),
    ("Jrue Holiday (2023)", "Wing Stopper", 2680, 1496, 2724, 1475),
    ("Shai Gilgeous-Alexander (2025)", "Disruptor", 2539, 1031, 2655, 974),
    ("Kawhi Leonard (2021)", "Disruptor", 2164, 1240, 2219, 1261),
    ("Jimmy Butler (2023)", "Disruptor", 2308, 1559, 2356, 1537),
    ("Tyrese Maxey (2026)", "Disruptor", 3000, 1574, 3053, 1596),
    ("Chris Paul (2018)", "Disruptor", 3119, 1708, 3162, 1729),
    ("Stephen Curry (2021)", "Low Activity", 2954, 500, 3010, 520),
    ("Jamal Murray (2026)", "Low Activity", 3311, 681, 3360, 702),
    ("Jalen Brunson (2024)", "Low Activity", 3607, 663, 3562, 642),
    ("Trae Young (2022)", "Low Activity", 3641, 767, 3614, 745),
    ("Damian Lillard (2021)", "Low Activity", 3390, 787, 3444, 808),
    ("Ja Morant (2022)", "Point-of-Attack Guard", 3335, 1388, 3375, 1367),
    ("Kyle Lowry (2018)", "Point-of-Attack Guard", 3416, 1531, 3455, 1516),
    ("Kemba Walker (2018)", "Point-of-Attack Guard", 3691, 1619, 3554, 1597),
    ("Mike Conley (2019)", "Point-of-Attack Guard", 3520, 1680, 3571, 1703),
    ("Darren Collison (2018)", "Point-of-Attack Guard", 3476, 1806, 3534, 1827),
]

WIDTH, HEIGHT = 3960, 1980
TOP, BOTTOM = 127, 1946


def on_map(sheet, points):
    ox, oy, sx, sy = SHEETS[sheet]
    return [ox + p[0] * sx for p in points], [oy + p[1] * sy for p in points]


fig = plt.figure(figsize=(WIDTH / 300, HEIGHT / 300), dpi=300, facecolor=BACKGROUND)
ax = fig.add_axes([0, (HEIGHT - BOTTOM) / HEIGHT, 1, (BOTTOM - TOP) / HEIGHT])
ax.set_facecolor(BACKGROUND)
ax.set_xlim(0, WIDTH)
ax.set_ylim(BOTTOM, TOP)
ax.axis("off")

for name, blocks in CLUSTERS.items():
    xs, ys = [], []
    for sheet, points in blocks:
        bx, by = on_map(sheet, points)
        xs += bx
        ys += by
    ax.scatter(xs, ys, s=7.5, color=COLORS[name], alpha=0.6, linewidths=0.5, zorder=2)

for label, archetype, x, y, tx, ty in PLAYERS:
    ax.scatter([x], [y], s=28, color=COLORS[archetype], linewidths=0, zorder=3)

ax.scatter([c[1] for c in CENTROIDS], [c[2] for c in CENTROIDS], s=50,
           color="#1f77b4", linewidths=0, zorder=4)

player_line = dict(arrowstyle="-", color="black", alpha=0.7, lw=0.6,
                   shrinkA=0, shrinkB=2, patchA=None)
centroid_line = dict(player_line, shrinkB=3)

for label, archetype, x, y, tx, ty in PLAYERS:
    ax.annotate(label, xy=(x, y), xytext=(tx, ty), ha="left", va="center",
                fontsize=7.3, color="black", zorder=5, annotation_clip=False,
                arrowprops=player_line,
                path_effects=[pe.withStroke(linewidth=3.6, foreground=BACKGROUND, alpha=0.9)])

for name, x, y, tx, ty, anchor in CENTROIDS:
    ax.annotate(name, xy=(x, y), xytext=(tx, ty), ha=anchor, va="center",
                fontsize=11.7, fontweight="bold", color="black", zorder=6,
                annotation_clip=False, arrowprops=centroid_line,
                path_effects=[pe.withStroke(linewidth=6.5, foreground=BACKGROUND, alpha=0.9)])

fig.text(0.5, 1 - 64 / HEIGHT, TITLE, ha="center", va="center",
         fontsize=16.1, fontweight="bold", color="black")

fig.savefig("out.png", dpi=300, facecolor=BACKGROUND)
